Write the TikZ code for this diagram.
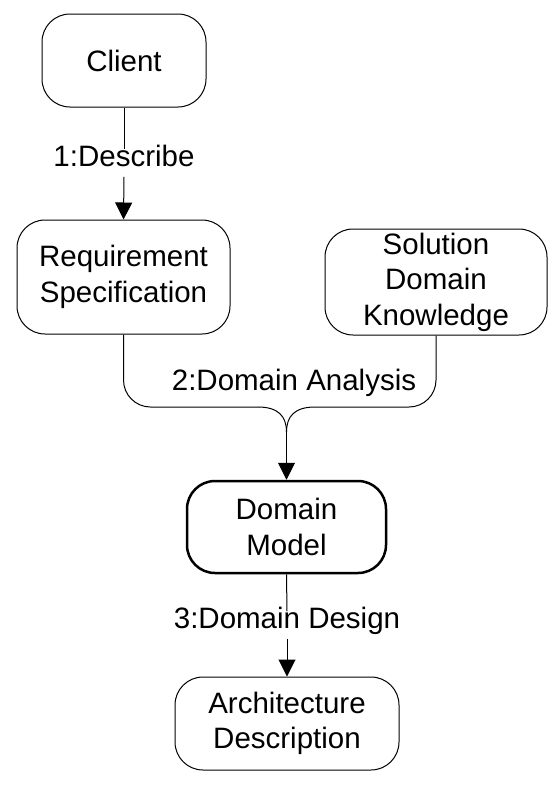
\documentclass[tikz,border=0pt]{standalone}
\usepackage{fontspec}
\setmainfont{Liberation Sans}
\usetikzlibrary{arrows.meta}

\tikzset{
  box/.style={draw, line width=1pt, rounded corners=28pt, align=center,
    font=\fontsize{29.5}{35.5}\selectfont, inner sep=0pt},
  lbl/.style={font=\fontsize{29.5}{35.5}\selectfont, text height=0.716em,
    text depth=0pt, inner sep=10pt},
  flow/.style={line width=1pt},
  arr/.style={line width=1pt, -{Triangle[width=17pt,length=17pt]}}
}

\begin{document}
\begin{tikzpicture}[x=1pt,y=-1pt]
    \useasboundingbox (0,0) rectangle (559,790);

    % The boxes
    \node[box, minimum width=164pt, minimum height=93pt] (client) at (124,60.5) {Client};
    \node[box, minimum width=213pt, minimum height=114pt] (req) at (123.5,277) {Requirement\\Specification};
    \node[box, minimum width=222pt, minimum height=106pt] (sol) at (436,282) {Solution\\Domain\\Knowledge};
    \node[box, line width=2.5pt, minimum width=199pt, minimum height=92pt] (model) at (286.5,527) {Domain\\Model};
    \node[box, minimum width=224pt, minimum height=93pt] (arch) at (287,723.5) {Architecture\\Description};

    % Labels on the connectors
    \node[lbl] (describe) at (124,163) {1:Describe};
    \node[lbl] (analysis) at (294,387) {2:Domain Analysis};
    \node[lbl] (design) at (287,625) {3:Domain Design};

    % 1: client to requirement
    \draw[flow] (client.south) -- (describe.north);
    \draw[arr] (describe.south) -- (req.north);

    % 2: the two boxes join into one arrow
    \coordinate (leftend) at (258,407);
    \coordinate (rightend) at (315,407);
    \coordinate (merge) at (286.5,432);
    \draw[flow, rounded corners=27pt] (req.south) |- (leftend);
    \draw[flow] (leftend) .. controls (278,407) and (286.5,416) .. (merge);
    \draw[flow, rounded corners=27pt] (sol.south) |- (rightend);
    \draw[flow] (rightend) .. controls (295,407) and (286.5,416) .. (merge);
    \draw[arr] (merge) -- (model.north);

    % 3: model to architecture
    \draw[flow] (model.south) -- (design.north);
    \draw[arr] (design.south) -- (arch.north);
\end{tikzpicture}
\end{document}
